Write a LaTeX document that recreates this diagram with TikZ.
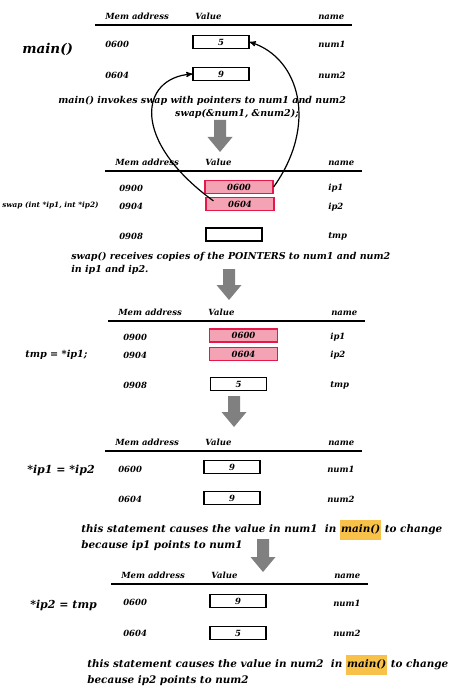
\documentclass[tikz,border=0pt]{standalone}
\usepackage{xcolor}
\usepackage{fontspec}
\setmainfont{DejaVu Serif}
\usepackage{tikz}
\usetikzlibrary{arrows,positioning,calc}

\definecolor{ptrred}{HTML}{E8174A}
\definecolor{ptrpink}{HTML}{F4A3B5}
\definecolor{hilite}{HTML}{F8C24A}
\definecolor{stepgray}{gray}{0.5}

\newcommand{\hd}{\fontsize{8.5}{10}\selectfont\bfseries\itshape}
\newcommand{\val}{\fontsize{8.5}{10}\selectfont\bfseries\itshape}
\newcommand{\txt}{\fontsize{9.5}{13}\selectfont\bfseries\itshape}
\newcommand{\bigtxt}{\fontsize{10.4}{14.5}\selectfont\bfseries\itshape}
\newcommand{\hl}[1]{{\setlength{\fboxsep}{1pt}\colorbox{hilite}{\rule[-6pt]{0pt}{18pt}#1}}}

\begin{document}
\begin{tikzpicture}[x=1pt, y=-1pt, >=stealth', semithick]
	\tikzstyle{cell}=[draw=black, line width=1.2pt, fill=white, minimum width=56pt, minimum height=13pt, inner sep=0pt, font=\val]
	\tikzstyle{ptr}=[cell, draw=ptrred, fill=ptrpink, minimum width=68pt]
	\tikzstyle{col}=[font=\hd, inner sep=0pt, anchor=west]
	\tikzstyle{note}=[font=\txt, inner sep=0pt, anchor=west, align=left]
	\useasboundingbox (0,0) rectangle (453,692);

	% column headers and rules
	\foreach \L/\y in {95/16, 105/162, 108/312, 105/442, 111/575} {
		\node[col] (mem\y) at (\L+10,\y) {Mem address};
		\node[col] (value\y) at (\L+100,\y) {Value};
		\node[col] (name\y) at (\L+223,\y+1) {name};
		\draw[line width=1.2pt] (\L,\y+9) -- (\L+257,\y+9);
	}

	% main()
	\node[note, font=\fontsize{13.5}{16}\selectfont\bfseries\itshape] (main) at (22,49) {main()};
	\node[col] (a1) at (105,44) {0600};
	\node[cell] (num1a) at (221,42) {5};
	\node[col] (n1) at (318,44) {num1};
	\node[col] (a2) at (105,75) {0604};
	\node[cell] (num2a) at (221,74) {9};
	\node[col] (n2) at (318,75) {num2};
	\node[note] (t1) at (58,101) {main() invokes swap with pointers to num1 and num2};
	\node[font=\txt, inner sep=0pt] (call) at (237,114) {swap(\&num1, \&num2);};

	% swap()
	\node[note, font=\fontsize{7.3}{8}\selectfont\bfseries\itshape] (sig) at (2,205) {swap (int *ip1, int *ip2)};
	\node[col] (a3) at (119,188) {0900};
	\node[ptr] (ip1a) at (239,187) {0600};
	\node[col] (n3) at (328,188) {ip1};
	\node[col] (a4) at (119,206) {0904};
	\node[ptr] (ip2a) at (240,204) {0604};
	\node[col] (n4) at (328,207) {ip2};
	\node[col] (a5) at (119,236) {0908};
	\node[cell] (tmpa) at (234,234.5) {};
	\node[col] (n5) at (328,236) {tmp};
	\node[note] (t2) at (71,263.5) {swap() receives copies of the POINTERS to num1 and num2\\in ip1 and ip2.};

	% tmp = *ip1
	\node[note, font=\fontsize{9.7}{12}\selectfont\bfseries\itshape] (s1) at (25,355) {tmp = *ip1;};
	\node[col] (a6) at (123,337) {0900};
	\node[ptr] (ip1b) at (243.5,335.5) {0600};
	\node[col] (n6) at (330,337) {ip1};
	\node[col] (a7) at (123,355) {0904};
	\node[ptr] (ip2b) at (243.5,354) {0604};
	\node[col] (n7) at (330,355) {ip2};
	\node[col] (a8) at (123,385) {0908};
	\node[cell] (tmpb) at (238.5,384) {5};
	\node[col] (n8) at (330,385) {tmp};

	% *ip1 = *ip2
	\node[note, font=\fontsize{11}{14}\selectfont\bfseries\itshape] (s2) at (27,470) {*ip1 = *ip2};
	\node[col] (a9) at (118,469) {0600};
	\node[cell] (num1b) at (232,467) {9};
	\node[col] (n9) at (327,469) {num1};
	\node[col] (a10) at (118,499) {0604};
	\node[cell] (num2b) at (232,498) {9};
	\node[col] (n10) at (327,499) {num2};
	\node[note, font=\bigtxt] (t3) at (81,535.5) {this statement causes the value in num1~ in \hl{main()} to change\\because ip1 points to num1};

	% *ip2 = tmp
	\node[note, font=\fontsize{11}{14}\selectfont\bfseries\itshape] (s3) at (30,605) {*ip2 = tmp};
	\node[col] (a11) at (123,602) {0600};
	\node[cell] (num1c) at (238,601) {9};
	\node[col] (n11) at (333,603) {num1};
	\node[col] (a12) at (123,633) {0604};
	\node[cell] (num2c) at (238,633) {5};
	\node[col] (n12) at (333,633) {num2};
	\node[note, font=\bigtxt] (t4) at (87,670.5) {this statement causes the value in num2~ in \hl{main()} to change\\because ip2 points to num2};

	% gray step arrows
	\foreach \cx/\ty/\by in {220/120/152, 229/269/300, 234/396/427, 263/539/572}
		\fill[stepgray] (\cx-6,\ty) -- (\cx+6,\ty) -- (\cx+6,\by-15) -- (\cx+12.5,\by-15)
			-- (\cx,\by) -- (\cx-12.5,\by-15) -- (\cx-6,\by-15) -- cycle;

	% pointers back into main()
	\draw[->, line width=1.2pt] (ip1a.east) .. controls (318,125) and (300,58) .. (num1a.east);
	\draw[->, line width=1.2pt] ([xshift=8pt,yshift=-4pt]ip2a.north west) .. controls (130,140) and (140,78) .. (num2a.west);
\end{tikzpicture}
\end{document}
